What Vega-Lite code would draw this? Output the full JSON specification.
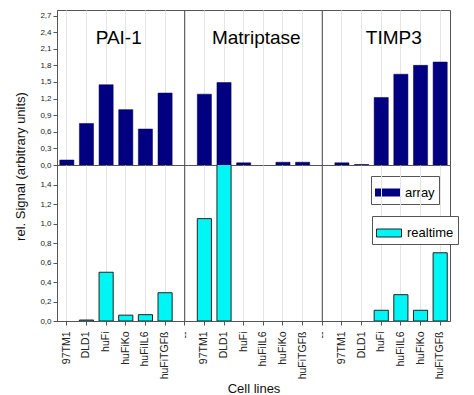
{
  "$schema": "https://vega.github.io/schema/vega-lite/v6.json",
  "padding": {"left": 13, "top": 9, "right": 5, "bottom": 2},
  "spacing": 0,
  "bounds": "flush",
  "config": {
    "font": "Liberation Sans",
    "view": {"stroke": "#555", "strokeWidth": 1},
    "axis": {"domainColor": "#555", "tickColor": "#555", "labelColor": "#222", "titleColor": "#111", "titleFontWeight": "normal", "labelFont": "Liberation Sans", "titleFont": "Liberation Sans"}
  },
  "datasets": {
    "bars": [
      {"panel": "array", "slot": "01|97TM1", "value": 0.09},
      {"panel": "array", "slot": "02|DLD1", "value": 0.75},
      {"panel": "array", "slot": "03|huFi", "value": 1.45},
      {"panel": "array", "slot": "04|huFiKo", "value": 1.0},
      {"panel": "array", "slot": "05|huFiIL6", "value": 0.65},
      {"panel": "array", "slot": "06|huFiTGFß", "value": 1.3},
      {"panel": "array", "slot": "08|97TM1", "value": 1.28},
      {"panel": "array", "slot": "09|DLD1", "value": 1.49},
      {"panel": "array", "slot": "10|huFi", "value": 0.04},
      {"panel": "array", "slot": "11|huFiIL6", "value": 0.0},
      {"panel": "array", "slot": "12|huFiKo", "value": 0.05},
      {"panel": "array", "slot": "13|huFiTGFß", "value": 0.05},
      {"panel": "array", "slot": "15|97TM1", "value": 0.04},
      {"panel": "array", "slot": "16|DLD1", "value": 0.01},
      {"panel": "array", "slot": "17|huFi", "value": 1.22},
      {"panel": "array", "slot": "18|huFiIL6", "value": 1.64},
      {"panel": "array", "slot": "19|huFiKo", "value": 1.8},
      {"panel": "array", "slot": "20|huFiTGFß", "value": 1.86},
      {"panel": "realtime", "slot": "01|97TM1", "value": 0.0},
      {"panel": "realtime", "slot": "02|DLD1", "value": 0.01},
      {"panel": "realtime", "slot": "03|huFi", "value": 0.5},
      {"panel": "realtime", "slot": "04|huFiKo", "value": 0.06},
      {"panel": "realtime", "slot": "05|huFiIL6", "value": 0.065},
      {"panel": "realtime", "slot": "06|huFiTGFß", "value": 0.29},
      {"panel": "realtime", "slot": "08|97TM1", "value": 1.05},
      {"panel": "realtime", "slot": "09|DLD1", "value": 1.8},
      {"panel": "realtime", "slot": "10|huFi", "value": 0.0},
      {"panel": "realtime", "slot": "11|huFiIL6", "value": 0.0},
      {"panel": "realtime", "slot": "12|huFiKo", "value": 0.0},
      {"panel": "realtime", "slot": "13|huFiTGFß", "value": 0.0},
      {"panel": "realtime", "slot": "15|97TM1", "value": 0.0},
      {"panel": "realtime", "slot": "16|DLD1", "value": 0.0},
      {"panel": "realtime", "slot": "17|huFi", "value": 0.11},
      {"panel": "realtime", "slot": "18|huFiIL6", "value": 0.27},
      {"panel": "realtime", "slot": "19|huFiKo", "value": 0.11},
      {"panel": "realtime", "slot": "20|huFiTGFß", "value": 0.7}
    ],
    "sep": [{"slot": "07|--"}, {"slot": "14|--"}],
    "titles": [
      {"slot": "04|huFiKo", "label": "PAI-1", "value": 2.3},
      {"slot": "11|huFiIL6", "label": "Matriptase", "value": 2.3},
      {"slot": "18|huFiIL6", "label": "TIMP3", "value": 2.3}
    ]
  },
  "vconcat": [
    {
      "width": 393,
      "height": 155,
      "layer": [
        {
          "data": {"name": "bars"},
          "transform": [{"filter": "datum.panel === 'array' && datum.value > 0"}],
          "mark": {"type": "bar", "stroke": "#000050", "strokeWidth": 0.5},
          "encoding": {
            "x": {
              "field": "slot", "type": "nominal",
              "scale": {"domain": ["01|97TM1","02|DLD1","03|huFi","04|huFiKo","05|huFiIL6","06|huFiTGFß","07|--","08|97TM1","09|DLD1","10|huFi","11|huFiIL6","12|huFiKo","13|huFiTGFß","14|--","15|97TM1","16|DLD1","17|huFi","18|huFiIL6","19|huFiKo","20|huFiTGFß"], "paddingInner": 0.28, "paddingOuter": 0.14},
              "axis": {"labels": false, "title": null, "grid": true, "gridColor": "#e4e4e4", "ticks": true, "tickSize": 3}
            },
            "y": {
              "field": "value", "type": "quantitative",
              "scale": {"domain": [0, 2.8], "nice": false},
              "axis": {"values": [0,0.3,0.6,0.9,1.2,1.5,1.8,2.1,2.4,2.7], "labelOverlap": false, "labelExpr": "replace(format(datum.value, '.1f'), '.', ',')", "labelFontSize": 8, "tickSize": 4, "grid": false, "title": "rel. Signal (arbitrary units)", "titleFontSize": 13, "titleY": 156, "titleX": -30, "titleAlign": "center"}
            },
            "color": {
              "field": "panel", "type": "nominal",
              "scale": {"domain": ["array"], "range": ["#000080"]},
              "legend": {"title": null, "orient": "none", "legendX": 314, "legendY": 166, "strokeColor": "#555", "padding": 4, "symbolType": "M-1,-0.32H1V0.32H-1Z", "symbolSize": 625, "symbolStrokeWidth": 0, "labelFontSize": 13, "labelOffset": 5, "fillColor": "white"}
            }
          }
        },
        {
          "data": {"name": "sep"},
          "mark": {"type": "rule", "color": "#444", "strokeWidth": 1},
          "encoding": {"x": {"field": "slot", "type": "nominal"}}
        },
        {
          "data": {"name": "titles"},
          "mark": {"type": "text", "fontSize": 19, "baseline": "middle", "align": "center", "color": "#000"},
          "encoding": {
            "x": {"field": "slot", "type": "nominal", "bandPosition": 0},
            "y": {
              "field": "value", "type": "quantitative",
              "scale": {"domain": [0, 2.8], "nice": false},
              "axis": {"values": [0,0.3,0.6,0.9,1.2,1.5,1.8,2.1,2.4,2.7], "labelOverlap": false, "labelExpr": "replace(format(datum.value, '.1f'), '.', ',')", "labelFontSize": 8, "tickSize": 4, "grid": false, "title": "rel. Signal (arbitrary units)", "titleFontSize": 13, "titleY": 156, "titleX": -30, "titleAlign": "center"}
            },
            "text": {"field": "label"}
          }
        }
      ]
    },
    {
      "width": 393,
      "height": 156,
      "layer": [
        {
          "data": {"name": "bars"},
          "transform": [{"filter": "datum.panel === 'realtime' && datum.value > 0"}],
          "mark": {"type": "bar", "stroke": "#222", "strokeWidth": 1, "clip": true},
          "encoding": {
            "x": {
              "field": "slot", "type": "nominal",
              "scale": {"domain": ["01|97TM1","02|DLD1","03|huFi","04|huFiKo","05|huFiIL6","06|huFiTGFß","07|--","08|97TM1","09|DLD1","10|huFi","11|huFiIL6","12|huFiKo","13|huFiTGFß","14|--","15|97TM1","16|DLD1","17|huFi","18|huFiIL6","19|huFiKo","20|huFiTGFß"], "paddingInner": 0.28, "paddingOuter": 0.14},
              "axis": {"labelExpr": "split(datum.value, '|')[1]", "labelAngle": -90, "labelFontSize": 10.5, "labelPadding": 6, "grid": true, "gridColor": "#e4e4e4", "tickSize": 4, "title": "Cell lines", "titleFontSize": 13, "titlePadding": 4}
            },
            "y": {
              "field": "value", "type": "quantitative",
              "scale": {"domain": [0, 1.6], "nice": false},
              "axis": {"values": [0,0.2,0.4,0.6,0.8,1.0,1.2,1.4], "labelOverlap": false, "labelExpr": "replace(format(datum.value, '.1f'), '.', ',')", "labelFontSize": 8, "tickSize": 4, "grid": false, "title": null}
            },
            "color": {
              "field": "panel", "type": "nominal",
              "scale": {"domain": ["realtime"], "range": ["#00f5f5"]},
              "legend": {"title": null, "orient": "none", "legendX": 315, "legendY": 51, "strokeColor": "#555", "padding": 4, "symbolType": "M-1,-0.32H1V0.32H-1Z", "symbolSize": 625, "symbolStrokeColor": "#222", "symbolStrokeWidth": 1, "labelFontSize": 13, "labelOffset": 5, "fillColor": "white"}
            }
          }
        },
        {
          "data": {"name": "sep"},
          "mark": {"type": "rule", "color": "#444", "strokeWidth": 1},
          "encoding": {"x": {"field": "slot", "type": "nominal"}}
        }
      ]
    }
  ],
  "resolve": {"scale": {"color": "independent", "y": "independent"}, "legend": {"color": "independent"}}
}
